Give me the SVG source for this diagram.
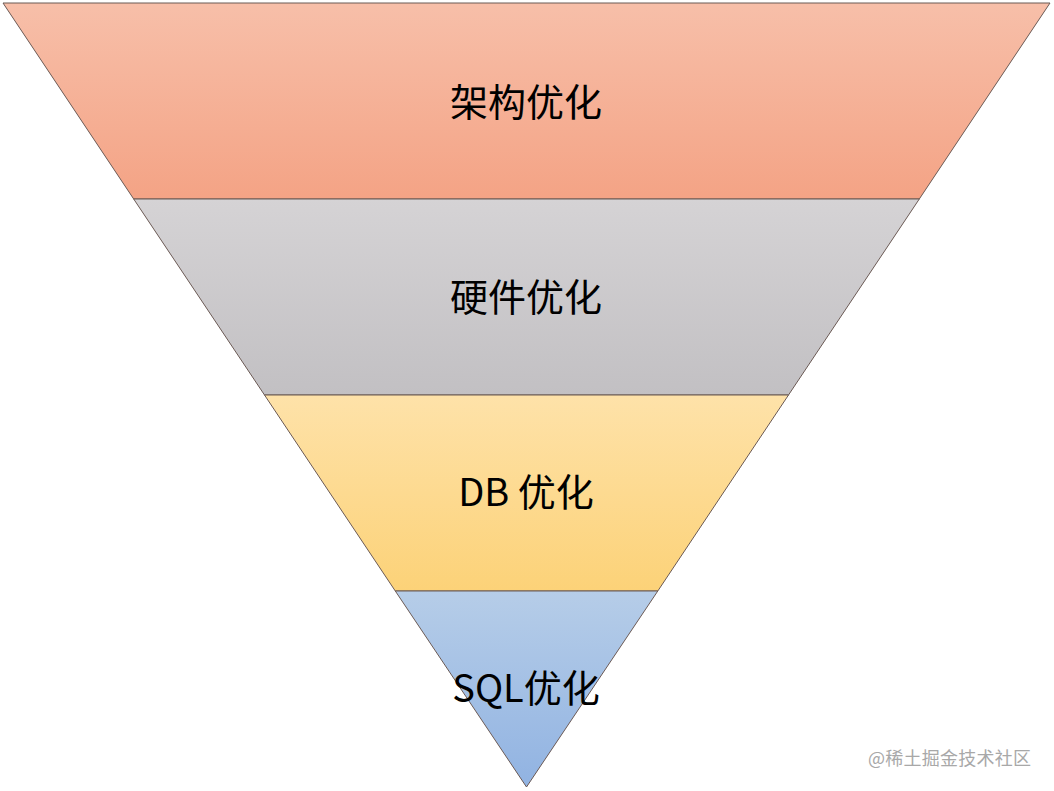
<svg xmlns="http://www.w3.org/2000/svg" width="1054" height="791" viewBox="0 0 1054 791">
<defs>
<linearGradient id="gOrange" x1="0" y1="0" x2="0" y2="1"><stop offset="0" stop-color="#F7BFA9"/><stop offset="1" stop-color="#F4A385"/></linearGradient>
<linearGradient id="gGray" x1="0" y1="0" x2="0" y2="1"><stop offset="0" stop-color="#D5D3D5"/><stop offset="1" stop-color="#C2C0C3"/></linearGradient>
<linearGradient id="gYellow" x1="0" y1="0" x2="0" y2="1"><stop offset="0" stop-color="#FEE2A9"/><stop offset="1" stop-color="#FCD278"/></linearGradient>
<linearGradient id="gBlue" x1="0" y1="0" x2="0" y2="1"><stop offset="0" stop-color="#B6CDE8"/><stop offset="1" stop-color="#91B3E2"/></linearGradient>
</defs>
<style>
.band{stroke:#6B5A55;stroke-width:1}
.lbl{font-family:"Noto Sans CJK SC","Noto Sans",sans-serif;font-size:38px;fill:#000;text-anchor:middle;dominant-baseline:central}
.wm{font-family:"Noto Sans CJK SC",sans-serif;font-size:18px;fill:#A8A8A8}
</style>
<rect width="1054" height="791" fill="#fff"/>
<g id="layer1"><polygon class="band" points="3,3 1050,3 919.3,199 133.7,199" fill="url(#gOrange)"/><text class="lbl" x="526" y="99">架构优化</text></g>
<g id="layer2"><polygon class="band" points="133.7,199 919.3,199 788.5,395 264.5,395" fill="url(#gGray)"/><text class="lbl" x="526" y="294">硬件优化</text></g>
<g id="layer3"><polygon class="band" points="264.5,395 788.5,395 657.8,591 395.3,591" fill="url(#gYellow)"/><text class="lbl" x="526" y="489">DB 优化</text></g>
<g id="layer4"><polygon class="band" points="395.3,591 657.8,591 526.5,787" fill="url(#gBlue)"/><text class="lbl" x="526" y="685">SQL优化</text></g>
<g id="connectors"/>
<text class="wm" x="868" y="765" textLength="163">@稀土掘金技术社区</text>
</svg>
